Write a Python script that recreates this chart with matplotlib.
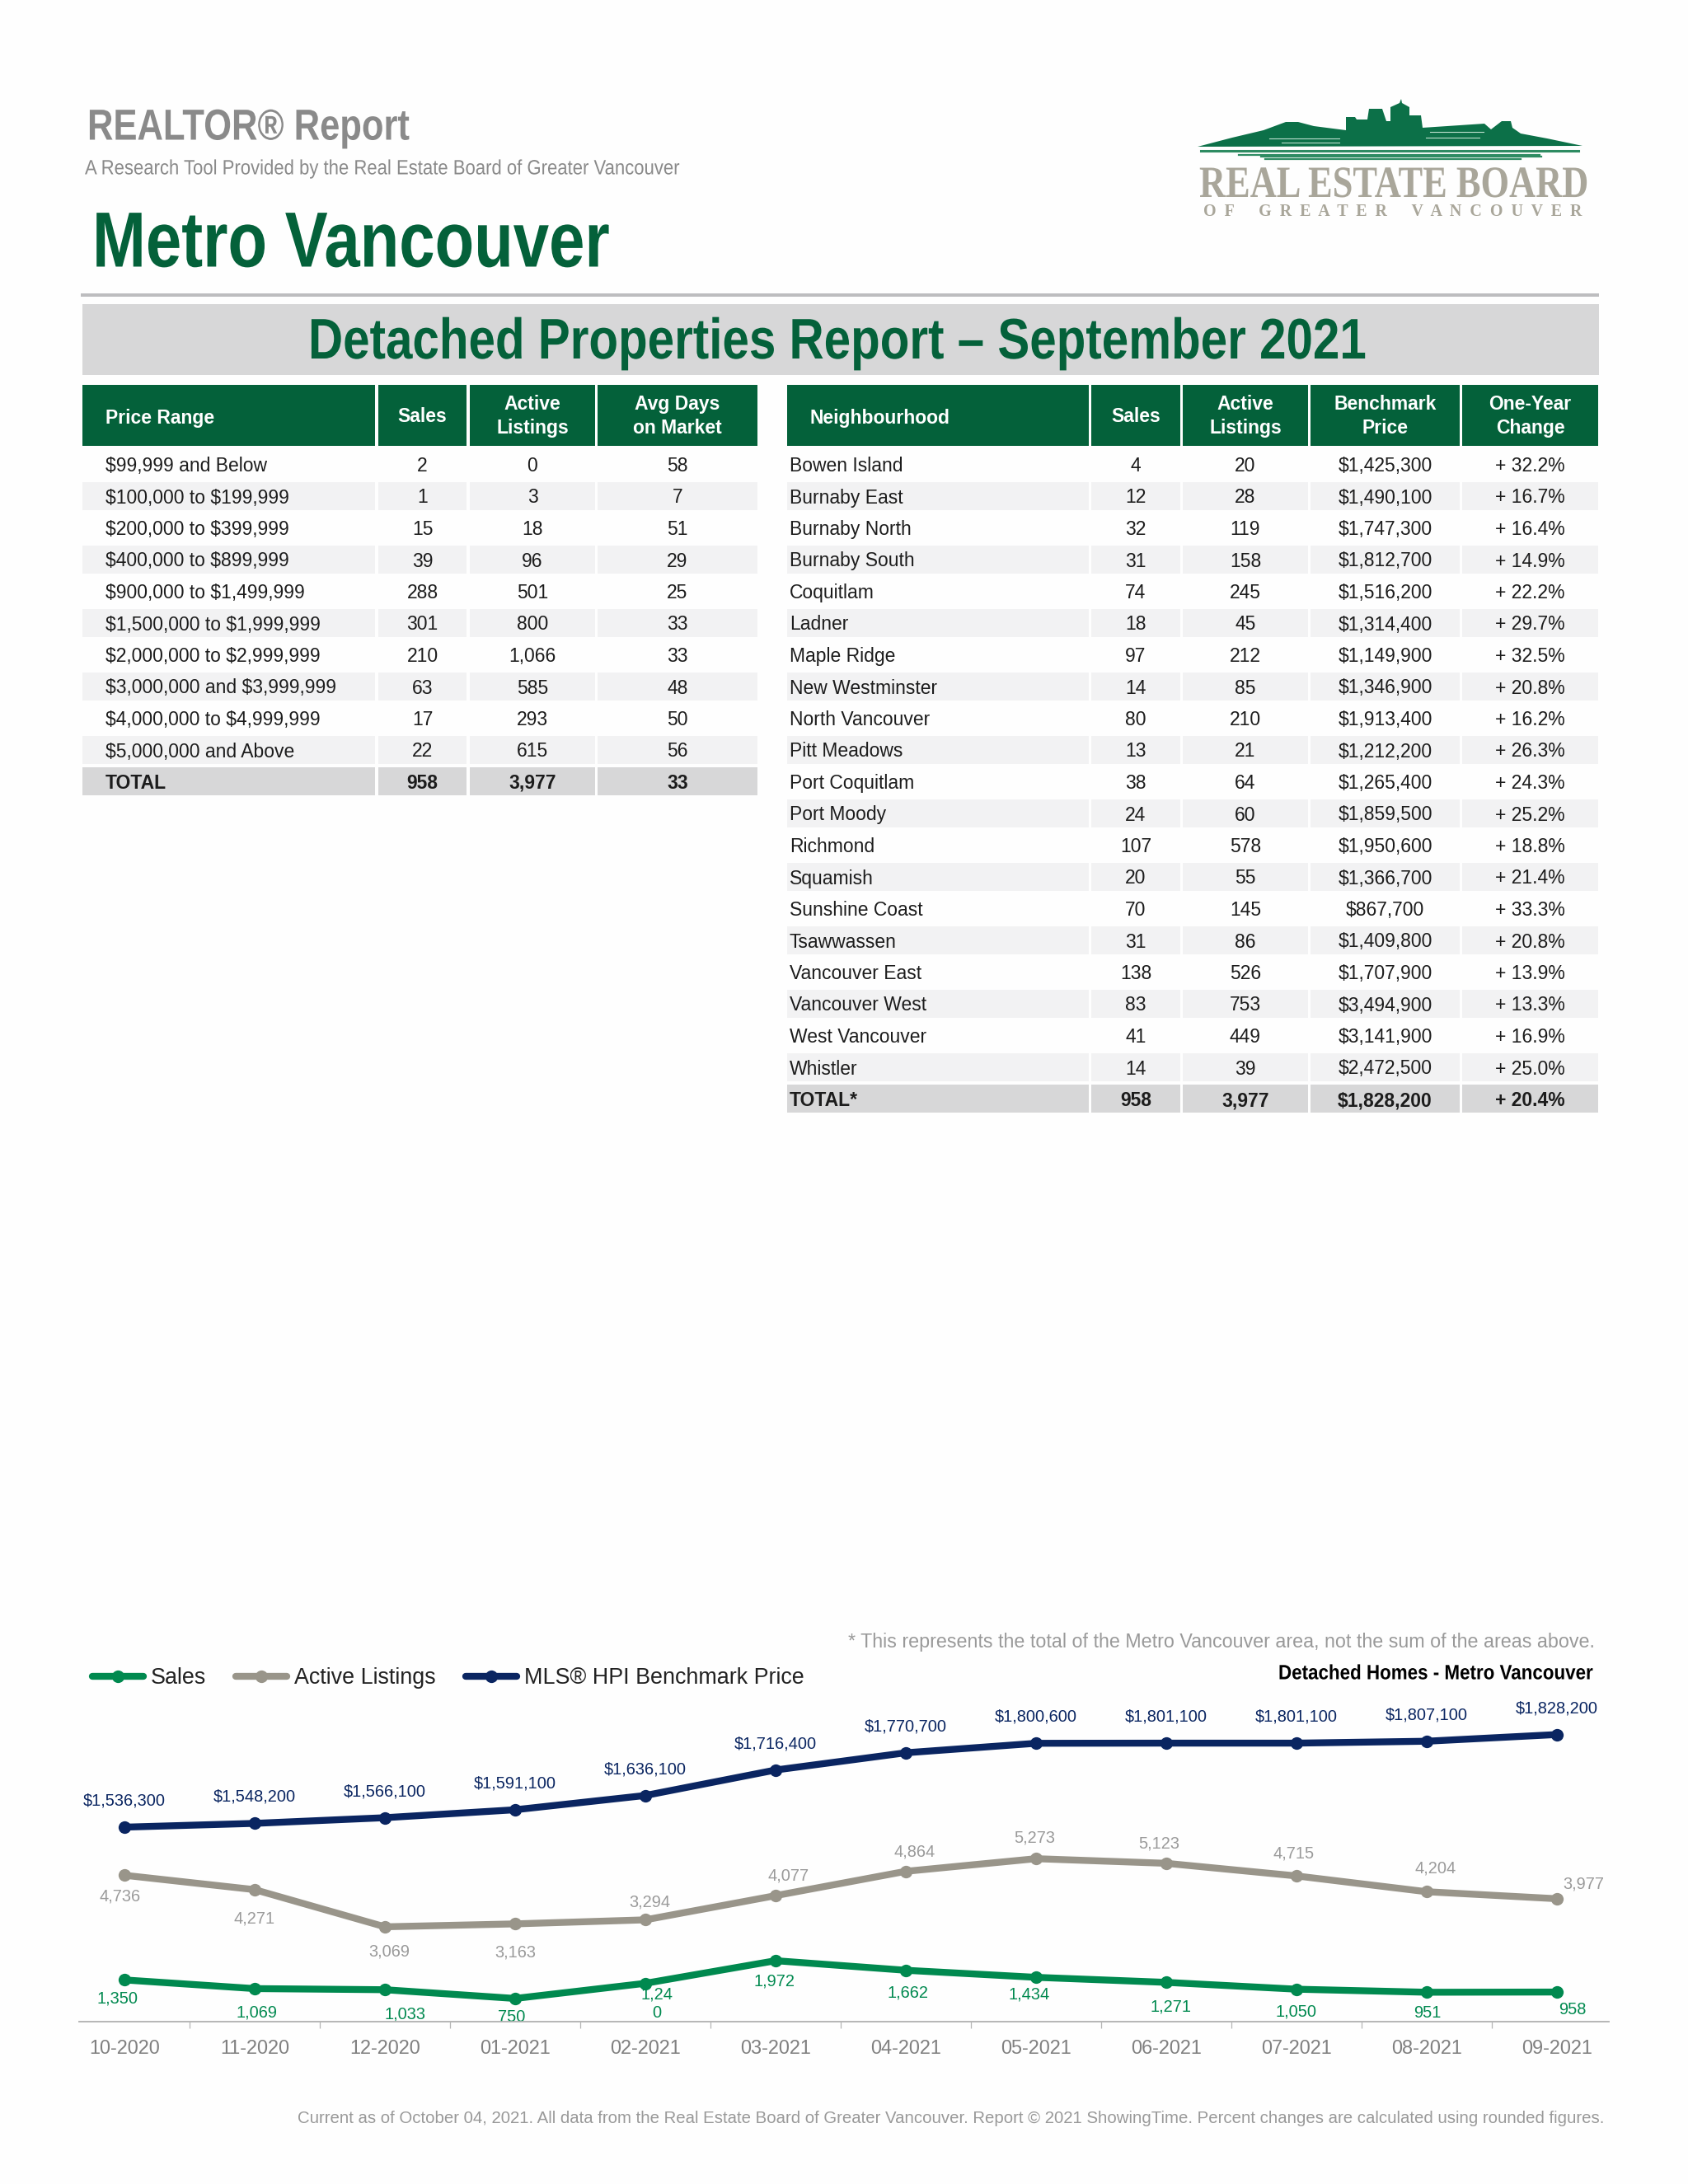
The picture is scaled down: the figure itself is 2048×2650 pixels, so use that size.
import matplotlib
matplotlib.use("Agg")
import matplotlib.pyplot as plt
from matplotlib.patches import Rectangle, Polygon
from matplotlib.patheffects import AbstractPathEffect
from matplotlib.transforms import Affine2D

plt.rcParams['font.family'] = ['Liberation Sans', 'DejaVu Sans']

# price range table
price_ranges = ["$99,999 and Below", "$100,000 to $199,999", "$200,000 to $399,999", "$400,000 to $899,999",
                "$900,000 to $1,499,999", "$1,500,000 to $1,999,999", "$2,000,000 to $2,999,999",
                "$3,000,000 and $3,999,999", "$4,000,000 to $4,999,999", "$5,000,000 and Above", "TOTAL"]
range_sales = ["2", "1", "15", "39", "288", "301", "210", "63", "17", "22", "958"]
range_active = ["0", "3", "18", "96", "501", "800", "1,066", "585", "293", "615", "3,977"]
range_days = ["58", "7", "51", "29", "25", "33", "33", "48", "50", "56", "33"]

# neighbourhood table
neighbourhoods = ["Bowen Island", "Burnaby East", "Burnaby North", "Burnaby South", "Coquitlam", "Ladner",
                  "Maple Ridge", "New Westminster", "North Vancouver", "Pitt Meadows", "Port Coquitlam",
                  "Port Moody", "Richmond", "Squamish", "Sunshine Coast", "Tsawwassen", "Vancouver East",
                  "Vancouver West", "West Vancouver", "Whistler", "TOTAL*"]
hood_sales = ["4", "12", "32", "31", "74", "18", "97", "14", "80", "13", "38", "24", "107", "20", "70", "31",
              "138", "83", "41", "14", "958"]
hood_active = ["20", "28", "119", "158", "245", "45", "212", "85", "210", "21", "64", "60", "578", "55", "145",
               "86", "526", "753", "449", "39", "3,977"]
hood_price = ["$1,425,300", "$1,490,100", "$1,747,300", "$1,812,700", "$1,516,200", "$1,314,400", "$1,149,900",
              "$1,346,900", "$1,913,400", "$1,212,200", "$1,265,400", "$1,859,500", "$1,950,600", "$1,366,700",
              "$867,700", "$1,409,800", "$1,707,900", "$3,494,900", "$3,141,900", "$2,472,500", "$1,828,200"]
hood_change = ["+ 32.2%", "+ 16.7%", "+ 16.4%", "+ 14.9%", "+ 22.2%", "+ 29.7%", "+ 32.5%", "+ 20.8%", "+ 16.2%",
               "+ 26.3%", "+ 24.3%", "+ 25.2%", "+ 18.8%", "+ 21.4%", "+ 33.3%", "+ 20.8%", "+ 13.9%", "+ 13.3%",
               "+ 16.9%", "+ 25.0%", "+ 20.4%"]

# line chart
months = ["10-2020", "11-2020", "12-2020", "01-2021", "02-2021", "03-2021", "04-2021", "05-2021", "06-2021",
          "07-2021", "08-2021", "09-2021"]
sales = [1350, 1069, 1033, 750, 1240, 1972, 1662, 1434, 1271, 1050, 951, 958]
active = [4736, 4271, 3069, 3163, 3294, 4077, 4864, 5273, 5123, 4715, 4204, 3977]
benchmark = [1536300, 1548200, 1566100, 1591100, 1636100, 1716400, 1770700, 1800600, 1801100, 1801100, 1807100,
             1828200]

# label offsets in pixels from the points
sales_offsets = [(-8, -23), (3, -29), (25, -30), (-4, -23), (14, -25), (-1, -25), (3, -27), (-8, -21), (6, -30),
                 (0, -27), (1, -25), (19, -21)]
active_offsets = [(-5, -26), (0, -35), (5, -30), (0, -35), (5, 21), (16, 24), (11, 24), (-2, 25), (-9, 24), (-3, 27),
                  (11, 28), (32, 18)]

GREEN = "#04613a"
BAND = "#d7d7d8"
STRIPE = "#f2f2f3"
INK = "#1c1c1c"
GRAY = "#8a8a8a"
LIGHT = "#999999"
TAN = "#a9a69a"
C_SALES = "#00894f"
C_ACTIVE = "#99958a"
C_PRICE = "#0a2561"


class Squeeze(AbstractPathEffect):
    # no condensed font here, so narrow the glyphs from the text origin
    def __init__(self, sx):
        super().__init__()
        self.sx = sx

    def draw_path(self, renderer, gc, tpath, affine, rgbFace=None):
        renderer.draw_path(gc, tpath, Affine2D().scale(self.sx, 1) + affine, rgbFace)


W, H = 2048, 2650
fig = plt.figure(figsize=(W / 100, H / 100), dpi=100, facecolor="#fefefe")
page = fig.add_axes([0, 0, 1, 1])
page.set_xlim(0, W)
page.set_ylim(H, 0)
page.axis("off")


def squeezed(x, y, s, sx, **kw):
    page.text(x, y, s, va="center_baseline", path_effects=[Squeeze(sx)], **kw)


squeezed(106, 150, "REALTOR® Report", 0.825, weight="bold", fontsize=38, color=GRAY)
squeezed(103, 202, "A Research Tool Provided by the Real Estate Board of Greater Vancouver", 0.884, fontsize=18,
         color=GRAY)
squeezed(112, 289, "Metro Vancouver", 0.82, weight="bold", fontsize=68.4, color=GREEN)

page.add_patch(Rectangle((98, 356), 1842, 4, color="#bdbdbf", lw=0))
page.add_patch(Rectangle((100, 369), 1840, 86, color=BAND, lw=0))
squeezed(374, 410, "Detached Properties Report – September 2021", 0.84, weight="bold", fontsize=50, color=GREEN)

# logo
skyline = [(1453, 178), (1495, 167), (1533, 158), (1560, 148), (1575, 148), (1594, 153), (1633, 158), (1633, 142),
           (1644, 142), (1646, 145), (1659, 145), (1661, 132), (1677, 132), (1682, 147), (1687, 147), (1687, 130),
           (1698, 125), (1700, 120), (1701, 125), (1710, 130), (1710, 140), (1724, 140), (1726, 155), (1801, 150),
           (1809, 157), (1822, 147), (1833, 147), (1835, 155), (1845, 162), (1877, 168), (1920, 177)]
page.add_patch(Polygon(skyline, color="#0c7048", lw=0))
for x0, x1, y, lw in [(1540, 1625, 168, 0.8), (1555, 1625, 173, 0.8), (1735, 1800, 160, 0.8), (1730, 1795, 167, 0.8)]:
    page.plot([x0, x1], [y, y], color="#bfe0cf", lw=lw)
for x0, x1, y, lw in [(1457, 1915, 183, 2.2), (1503, 1868, 188, 1.6), (1530, 1870, 190, 1.6), (1535, 1845, 193, 1.6)]:
    page.plot([x0, x1], [y, y], color="#2e8b62", lw=lw)
squeezed(1455, 220, "REAL ESTATE BOARD", 0.82, family="Liberation Serif", weight="bold", fontsize=39, color=TAN)
page.text(1690, 255, "O  F      G  R  E  A  T  E  R      V  A  N  C  O  U  V  E  R", family="Liberation Serif",
          weight="bold", fontsize=14.4, color=TAN, ha="center", va="center_baseline")


def draw_table(edges, heads, columns):
    for (x0, x1), head in zip(edges, heads):
        page.add_patch(Rectangle((x0, 467), x1 - x0, 74, color=GREEN, lw=0))
    n = len(columns[0])
    for i in range(n):
        y = 563 + i * 38.5
        total = i == n - 1
        for j, (x0, x1) in enumerate(edges):
            if total or i % 2 == 1:
                page.add_patch(Rectangle((x0, y - 17), x1 - x0, 34, color=BAND if total else STRIPE, lw=0))
            if j == 0:
                page.text(x0 + (28 if len(edges) == 4 else 3), y, columns[j][i], fontsize=16.5, color=INK,
                          va="center_baseline", weight="bold" if total else "normal", parse_math=False)
            else:
                page.text((x0 + x1) / 2, y, columns[j][i], fontsize=16.5, color=INK, ha="center",
                          va="center_baseline", weight="bold" if total else "normal", parse_math=False)
    for j, ((x0, x1), head) in enumerate(zip(edges, heads)):
        if j == 0:
            page.text(x0 + 28, 505, head, fontsize=16.5, weight="bold", color="white", va="center_baseline")
        else:
            page.text((x0 + x1) / 2, 505, head, fontsize=16.5, weight="bold", color="white", ha="center",
                      va="center", linespacing=1.38)


draw_table([(100, 455), (459, 566), (570, 722), (725, 919)],
           ["Price Range", "Sales", "Active\nListings", "Avg Days\non Market"],
           [price_ranges, range_sales, range_active, range_days])
draw_table([(955, 1321), (1324, 1432), (1435, 1587), (1590, 1771), (1774, 1939)],
           ["Neighbourhood", "Sales", "Active\nListings", "Benchmark\nPrice", "One-Year\nChange"],
           [neighbourhoods, hood_sales, hood_active, hood_price, hood_change])

page.text(1935, 1990, "* This represents the total of the Metro Vancouver area, not the sum of the areas above.",
          fontsize=16.75, color=LIGHT, ha="right", va="center_baseline")
squeezed(1551, 2028, "Detached Homes - Metro Vancouver", 0.895, weight="bold", fontsize=18, color="black")
page.text(1946, 2569, "Current as of October 04, 2021. All data from the Real Estate Board of Greater Vancouver. "
          "Report © 2021 ShowingTime. Percent changes are calculated using rounded figures.",
          fontsize=14.7, color=LIGHT, ha="right", va="center_baseline")

# chart, counts on the left scale and price on a hidden twin scale
ax_top, ax_bottom, ax_left, ax_right = 2090, 2453, 96, 1952
ax = fig.add_axes([ax_left / W, 1 - ax_bottom / H, (ax_right - ax_left) / W, (ax_bottom - ax_top) / H])
ax.patch.set_alpha(0)
ax2 = ax.twinx()
ax2.patch.set_alpha(0)
x = list(range(len(months)))
style = dict(lw=6, marker="o", ms=11, mew=0, solid_capstyle="round", clip_on=False)
l1, = ax.plot(x, sales, color=C_SALES, label="Sales", **style)
l2, = ax.plot(x, active, color=C_ACTIVE, label="Active Listings", **style)
l3, = ax2.plot(x, benchmark, color=C_PRICE, label="MLS® HPI Benchmark Price", **style)

ax.set_ylim(0, 9680)
ax2.set_ylim(923300, 1866200)
ax2.set_yticks([])
ax.set_yticks([])
for a in (ax, ax2):
    for s in ["top", "left", "right"]:
        a.spines[s].set_visible(False)
    a.spines["bottom"].set_color("#b5b5b5")
    a.spines["bottom"].set_linewidth(1.2)
ax.set_xticks(x)
ax.set_xticklabels(months, fontsize=16.9, color="#808080")
ax.tick_params(axis="x", which="major", length=0, pad=15)
ax.set_xticks([i + 0.5 for i in x], minor=True)
ax.tick_params(axis="x", which="minor", length=5.8, width=0.9, color="#b5b5b5")
ax.set_xlim(-0.348, 11.399)

for i in x:
    ax.annotate(f"{sales[i]:,}" if sales[i] != 1240 else "1,24\n0", (i, sales[i]), xytext=sales_offsets[i],
                textcoords="offset pixels", fontsize=14.4, color=C_SALES, ha="center", va="center", linespacing=1.26,
                annotation_clip=False)
    ax.annotate(f"{active[i]:,}", (i, active[i]), xytext=active_offsets[i], textcoords="offset pixels", fontsize=14.4,
                color="#9a9a9a", ha="center", va="center", annotation_clip=False)
    ax2.annotate(f"${benchmark[i]:,}", (i, benchmark[i]), xytext=(0, 32), textcoords="offset pixels", fontsize=14.4,
                 color=C_PRICE, ha="center", va="center", annotation_clip=False)

page.legend(handles=[l1, l2, l3], ncol=3, frameon=False, fontsize=19.4, loc="center left",
            bbox_to_anchor=(112, 2036), bbox_transform=page.transData, borderaxespad=0, borderpad=0,
            handlelength=2.29, handletextpad=0.33, columnspacing=1.355, labelcolor="#222222")

fig.savefig("out.png", dpi=100, facecolor=fig.get_facecolor())
